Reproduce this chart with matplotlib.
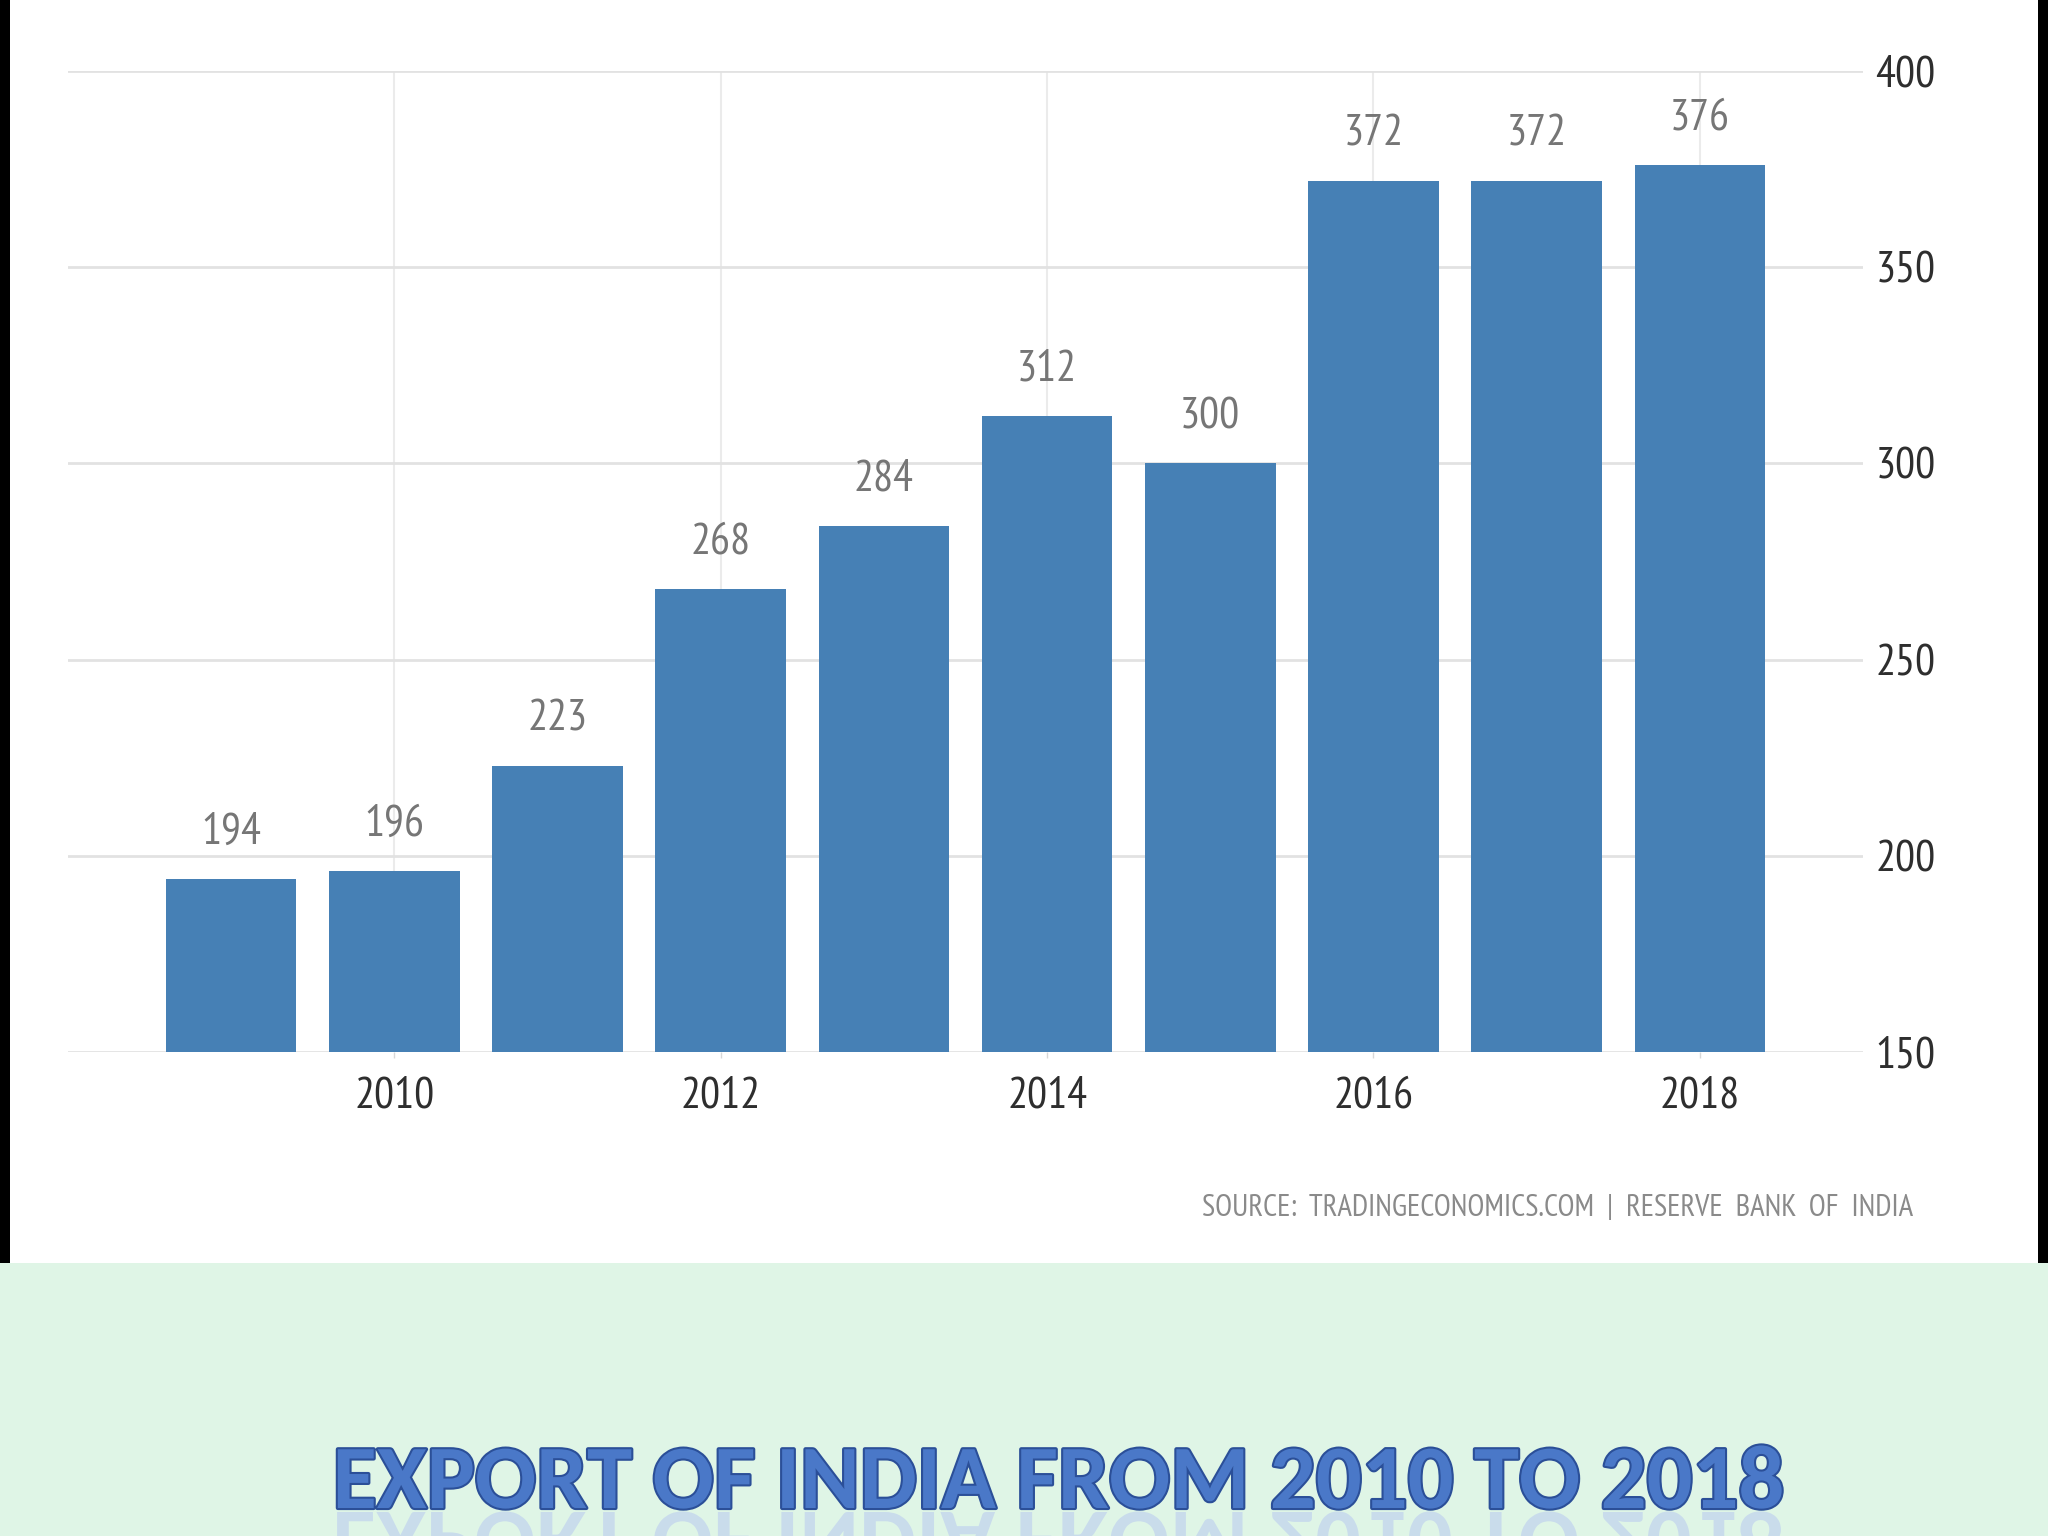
import matplotlib
matplotlib.use("Agg")
import matplotlib.pyplot as plt
from matplotlib.patches import Rectangle, PathPatch
from matplotlib.textpath import TextPath
from matplotlib.font_manager import FontProperties
from matplotlib.transforms import Affine2D
import matplotlib.patheffects as pe

# ---- data ----
years = [2009, 2010, 2011, 2012, 2013, 2014, 2015, 2016, 2017, 2018]
exports = [194, 196, 223, 268, 284, 312, 300, 372, 372, 376]
xtick_years = [2010, 2012, 2014, 2016, 2018]
ytick_values = [150, 200, 250, 300, 350, 400]
source_text = "SOURCE:  TRADINGECONOMICS.COM  |  RESERVE  BANK  OF  INDIA"
title_text = "EXPORT OF INDIA FROM 2010 TO 2018"

W, H, DPI = 2048, 1536, 100
NARROW = ["PT Sans Narrow", "DejaVu Sans"]
TITLE_FAM = ["Carlito", "Open Sans Condensed", "DejaVu Sans"]

fig = plt.figure(figsize=(W / DPI, H / DPI), dpi=DPI)
fig.patch.set_facecolor("white")

# background panels
fig.add_artist(Rectangle((0, 0), 1, 1 - 1263 / H, transform=fig.transFigure,
                         facecolor="#dff5e6", edgecolor="none", zorder=0))
fig.add_artist(Rectangle((0, 1 - 1263 / H), 10 / W, 1263 / H, transform=fig.transFigure,
                         facecolor="black", edgecolor="none", zorder=0))
fig.add_artist(Rectangle((1 - 10 / W, 1 - 1263 / H), 10 / W, 1263 / H, transform=fig.transFigure,
                         facecolor="black", edgecolor="none", zorder=0))

ax = fig.add_axes([68 / W, 1 - 1052 / H, (1863 - 68) / W, (1052 - 71) / H])
ax.set_facecolor("none")
ax.set_xlim(2008, 2019)
ax.set_ylim(150, 400)

ax.bar(years, exports, width=0.8, color="#4680b5", zorder=3)
for x, v in zip(years, exports):
    ax.annotate(f"{v}", (x, v), xytext=(0, 19), textcoords="offset points",
                ha="center", va="bottom", fontsize=32, color="#767676",
                family=NARROW)

ax.set_yticks(ytick_values)
ax.set_xticks(xtick_years)
ax.yaxis.tick_right()
ax.tick_params(axis="y", length=0, pad=9, labelsize=32, labelcolor="#2e2e2e")
ax.tick_params(axis="x", length=4, width=1, color="#d8d8d8", pad=14,
               labelsize=32, labelcolor="#2e2e2e")
for lab in ax.get_xticklabels() + ax.get_yticklabels():
    lab.set_family(NARROW)

ax.grid(axis="y", color="#e2e2e2", linewidth=2, zorder=0)
ax.grid(axis="x", color="#ebebeb", linewidth=1.5, zorder=0)
ax.set_axisbelow(True)
for s in ax.spines.values():
    s.set_visible(False)

renderer = fig.canvas.get_renderer()

def fit_width(txt, target_px):
    bb = txt.get_window_extent(renderer=renderer)
    txt.set_fontsize(txt.get_fontsize() * target_px / bb.width)

src = fig.text(1913 / W, 1 - 1208 / H, source_text, ha="right", va="center",
               fontsize=24, color="#8a8a8a", family=NARROW)
fit_width(src, 712)

# title
cx = 1059 / W
base = 1 - 1508 / H
title = fig.text(cx, base, title_text, ha="center", va="baseline",
                 family=TITLE_FAM, weight="bold", fontsize=72, color="#4a78c8",
                 path_effects=[pe.Stroke(linewidth=3, foreground="#2b4f98"), pe.Normal()])
fit_width(title, 1452)

# reflection (decorative mirrored glyph outline of the title)
title_fp = FontProperties(family=TITLE_FAM, weight="bold", size=title.get_fontsize())
tp = TextPath((0, 0), title_text, prop=title_fp)
ext = tp.get_extents()
s = DPI / 72.0
tr = (Affine2D().translate(-(ext.x0 + ext.width / 2), 0)
      .scale(s, -s).translate(cx * W, base * H - 4))
fig.add_artist(PathPatch(tp, transform=tr, facecolor="#c2d4ee", edgecolor="none",
                         alpha=0.75, zorder=1))

fig.savefig("out.png", dpi=DPI)
